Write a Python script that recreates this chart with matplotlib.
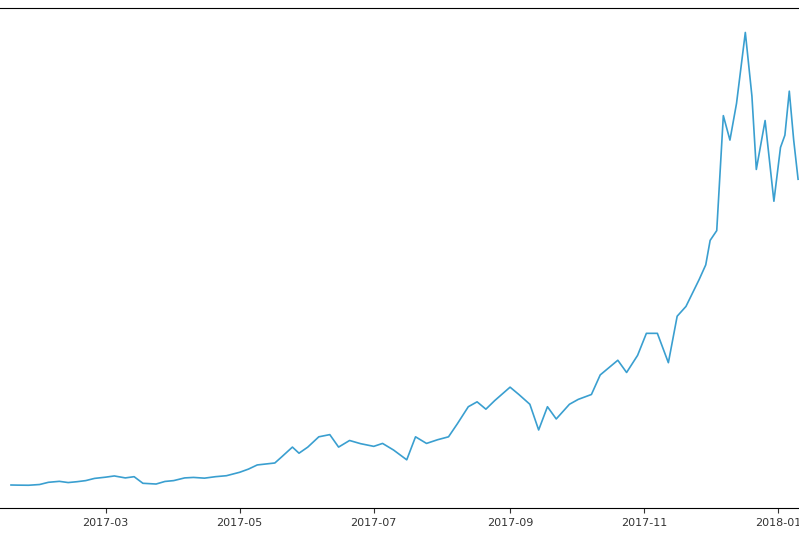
import matplotlib
matplotlib.use('Agg')
import matplotlib.pyplot as plt
import matplotlib.dates as mdates
import pandas as pd

dates = ['2017-01-17', '2017-01-20', '2017-01-25', '2017-01-30', '2017-02-03', '2017-02-08',
         '2017-02-12', '2017-02-16', '2017-02-20', '2017-02-24', '2017-03-01', '2017-03-05',
         '2017-03-10', '2017-03-14', '2017-03-18', '2017-03-24', '2017-03-28', '2017-04-01',
         '2017-04-06', '2017-04-10', '2017-04-15', '2017-04-20', '2017-04-25', '2017-05-01',
         '2017-05-05', '2017-05-09', '2017-05-13', '2017-05-17', '2017-05-20', '2017-05-25',
         '2017-05-28', '2017-06-01', '2017-06-06', '2017-06-11', '2017-06-15', '2017-06-20',
         '2017-06-25', '2017-07-01', '2017-07-05', '2017-07-10', '2017-07-16', '2017-07-20',
         '2017-07-25', '2017-07-30', '2017-08-04', '2017-08-08', '2017-08-13', '2017-08-17',
         '2017-08-21', '2017-08-25', '2017-09-01', '2017-09-05', '2017-09-10', '2017-09-14',
         '2017-09-18', '2017-09-22', '2017-09-28', '2017-10-02', '2017-10-08', '2017-10-12',
         '2017-10-16', '2017-10-20', '2017-10-24', '2017-10-29', '2017-11-02', '2017-11-07',
         '2017-11-12', '2017-11-16', '2017-11-20', '2017-11-26', '2017-11-29', '2017-12-01',
         '2017-12-04', '2017-12-07', '2017-12-10', '2017-12-13', '2017-12-17', '2017-12-20',
         '2017-12-22', '2017-12-26', '2017-12-30', '2018-01-02', '2018-01-04', '2018-01-06',
         '2018-01-08', '2018-01-10']
prices = [900, 895, 890, 920, 1010, 1050,
          1000, 1035, 1080, 1170, 1220, 1270,
          1190, 1240, 970, 940, 1045, 1080,
          1190, 1210, 1180, 1240, 1280, 1420,
          1550, 1720, 1760, 1800, 2040, 2450,
          2200, 2450, 2870, 2960, 2450, 2720,
          2590, 2480, 2600, 2330, 1930, 2870,
          2600, 2750, 2870, 3400, 4100, 4300,
          4000, 4350, 4900, 4600, 4200, 3150,
          4100, 3600, 4200, 4400, 4600, 5400,
          5700, 6000, 5500, 6200, 7100, 7100,
          5900, 7800, 8200, 9300, 9900, 10900,
          11300, 16000, 15000, 16500, 19400, 16800,
          13800, 15800, 12500, 14700, 15200, 17000,
          15000, 13400]

x = pd.to_datetime(dates)

fig = plt.figure(figsize=(7.99, 5.40), dpi=100)
ax = fig.add_axes([0, 32 / 540, 1, 500 / 540])
ax.plot(x, prices, color='#3a9fd0', linewidth=1.2)

ax.set_xlim(pd.Timestamp('2017-01-12'), pd.Timestamp('2018-01-10 10:00'))
ax.set_ylim(-40, 20400)
ax.xaxis.set_major_locator(mdates.MonthLocator(bymonth=[1, 3, 5, 7, 9, 11]))
ax.xaxis.set_major_formatter(mdates.DateFormatter('%Y-%m'))
ax.tick_params(axis='x', labelsize=8, colors='#333333')
ax.set_yticks([])
ax.spines['left'].set_visible(False)
ax.spines['right'].set_visible(False)

fig.savefig('out.png', dpi=100)
